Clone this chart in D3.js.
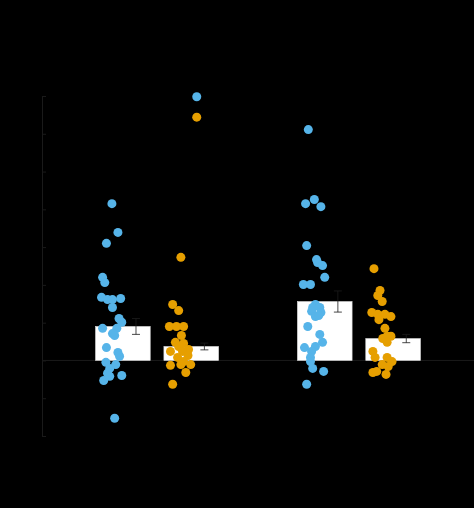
<!DOCTYPE html>
<html>
<head>
<meta charset="utf-8">
<script src="https://cdn.jsdelivr.net/npm/d3@7"></script>
<style>
  html, body { margin: 0; padding: 0; background: #000; }
  svg { display: block; }
  .axis path, .axis line { stroke: #1a1a1a; }
  .axis text { fill: #000; font-family: 'Liberation Sans', sans-serif; font-size: 10px; }
</style>
</head>
<body>
<div id="chart"></div>
<script>
// data
const groups = ['Group 1', 'Group 2'];
const conditions = ['Condition A', 'Condition B'];
const yTicks = [-2, -1, 0, 1, 2, 3, 4, 5, 6, 7];

// bar heights and standard errors, [group][condition]
const barMeans = [[0.90, 0.37], [1.56, 0.58]];
const barErrors = [[0.21, 0.09], [0.28, 0.11]];

// individual points (value) and their horizontal jitter (share of bar width from bar centre)
const g1aValues = [4.15, 3.39, 3.10, 2.20, 2.06, 1.67, 1.61, 1.61, 1.64, 1.40, 1.11, 1.01, 0.85, 0.85,
  0.71, 0.66, 0.34, 0.21, 0.11, -0.05, -0.11, -0.21, -0.34, -0.40, -0.53, -0.42, -1.53, 6.98];
const g1aJitter = [-0.20, -0.09, -0.30, -0.37, -0.33, -0.39, -0.28, -0.19, -0.04, -0.19, -0.07, -0.02, -0.37, -0.11,
  -0.19, -0.15, -0.30, -0.09, -0.06, -0.31, -0.13, -0.24, -0.28, -0.02, -0.35, -0.24, -0.15, 1.35];

const g1bValues = [6.44, 2.73, 1.48, 1.32, 0.90, 0.90, 0.90, 0.66, 0.48, 0.45, 0.37, 0.29, 0.24, 0.24,
  0.13, 0.08, -0.03, -0.13, -0.11, -0.11, -0.32, -0.63];
const g1bJitter = [0.10, -0.19, -0.34, -0.23, -0.40, -0.27, -0.14, -0.18, -0.29, -0.14, -0.23, -0.05, -0.38, -0.16,
  -0.06, -0.25, -0.14, -0.38, -0.01, -0.19, -0.10, -0.34];

const g2aValues = [6.11, 4.26, 4.15, 4.07, 3.04, 2.67, 2.59, 2.51, 2.20, 2.01, 2.01, 1.48, 1.40, 1.40, 1.30,
  1.27, 1.16, 1.19, 0.90, 0.69, 0.48, 0.37, 0.34, 0.24, 0.08, -0.03, -0.21, -0.29, -0.63];
const g2aJitter = [-0.30, -0.19, -0.35, -0.07, -0.33, -0.15, -0.13, -0.04, 0.00, -0.39, -0.26, -0.17, -0.22, -0.09, -0.24,
  -0.07, -0.17, -0.11, -0.31, -0.09, -0.04, -0.17, -0.37, -0.24, -0.26, -0.26, -0.22, -0.02, -0.33];

const g2bValues = [2.43, 1.85, 1.72, 1.56, 1.27, 1.22, 1.22, 1.16, 1.08, 0.85, 0.64, 0.58, 0.64, 0.48,
  0.24, 0.08, 0.08, -0.03, -0.11, -0.16, -0.32, -0.37, -0.29];
const g2bJitter = [-0.35, -0.24, -0.28, -0.20, -0.39, -0.28, -0.15, -0.04, -0.26, -0.15, -0.11, -0.19, -0.04, -0.11,
  -0.37, -0.33, -0.11, -0.02, -0.20, -0.09, -0.37, -0.13, -0.30];

const pointValues = [[g1aValues, g1bValues], [g2aValues, g2bValues]];
const pointJitter = [[g1aJitter, g1bJitter], [g2aJitter, g2bJitter]];

const colors = ['#56B4E9', '#E69F00'];

// dimension stuff
const width = 474;
const height = 508;
const axisX = 42;

const $svg = d3.select('#chart')
  .append('svg')
  .attr('width', width)
  .attr('height', height)
  .style('background', '#000');

// scales
const scaleX = d3.scaleBand()
  .domain(groups)
  .range([axisX, width])
  .paddingInner(0.39)
  .paddingOuter(0.265);

const scaleSub = d3.scaleBand()
  .domain(conditions)
  .range([0, scaleX.bandwidth()])
  .paddingInner(0.2)
  .paddingOuter(0);

const scaleY = d3.scaleLinear()
  .domain([-2, 7])
  .range([436, 96]);

const colorScale = d3.scaleOrdinal().domain(conditions).range(colors);

// flatten to one row per bar
const bars = [];
groups.forEach((g, gi) => {
  conditions.forEach((c, ci) => {
    bars.push({
      group: g,
      cond: c,
      mean: barMeans[gi][ci],
      se: barErrors[gi][ci],
      points: pointValues[gi][ci].map((v, i) => ({ value: v, jitter: pointJitter[gi][ci][i] }))
    });
  });
});

const bw = scaleSub.bandwidth();
const barLeft = d => scaleX(d.group) + scaleSub(d.cond);
const barCentre = d => barLeft(d) + bw / 2;

// y axis, ticks pointing inward, labels black on black like the source
const $axis = $svg.append('g')
  .attr('class', 'axis')
  .attr('transform', `translate(${axisX},0)`)
  .call(d3.axisLeft(scaleY).tickValues(yTicks).tickSize(-4).tickPadding(8));

// zero line
$svg.append('line')
  .attr('x1', axisX)
  .attr('x2', width)
  .attr('y1', scaleY(0))
  .attr('y2', scaleY(0))
  .attr('stroke', '#1a1a1a')
  .attr('stroke-width', 1);

// bars
$svg.selectAll('.bar')
  .data(bars)
  .enter()
  .append('rect')
  .attr('class', 'bar')
  .attr('x', barLeft)
  .attr('width', bw)
  .attr('y', d => scaleY(Math.max(0, d.mean)))
  .attr('height', d => Math.abs(scaleY(d.mean) - scaleY(0)))
  .attr('fill', '#fff')
  .attr('stroke', '#d8d8d8')
  .attr('stroke-width', 0.6);

// error bars, shifted right of bar centre (dark, so the part over black vanishes)
const errOffset = bw * 0.24;
const capHalf = 4;
const $err = $svg.selectAll('.err')
  .data(bars)
  .enter()
  .append('g')
  .attr('class', 'err')
  .attr('stroke', '#1c1c1c')
  .attr('stroke-opacity', 0.8)
  .attr('stroke-width', 1);

$err.append('line')
  .attr('x1', d => barCentre(d) + errOffset)
  .attr('x2', d => barCentre(d) + errOffset)
  .attr('y1', d => scaleY(d.mean + d.se))
  .attr('y2', d => scaleY(d.mean - d.se));

[1, -1].forEach(sign => {
  $err.append('line')
    .attr('x1', d => barCentre(d) + errOffset - capHalf)
    .attr('x2', d => barCentre(d) + errOffset + capHalf)
    .attr('y1', d => scaleY(d.mean + sign * d.se))
    .attr('y2', d => scaleY(d.mean + sign * d.se));
});

// points
const $pts = $svg.selectAll('.pts')
  .data(bars)
  .enter()
  .append('g')
  .attr('class', 'pts')
  .attr('fill', d => colorScale(d.cond));

$pts.selectAll('circle')
  .data(d => d.points.map(p => Object.assign({ bar: d }, p)))
  .enter()
  .append('circle')
  .attr('cx', p => barCentre(p.bar) + p.jitter * bw)
  .attr('cy', p => scaleY(p.value))
  .attr('r', 4.5);
</script>
</body>
</html>
